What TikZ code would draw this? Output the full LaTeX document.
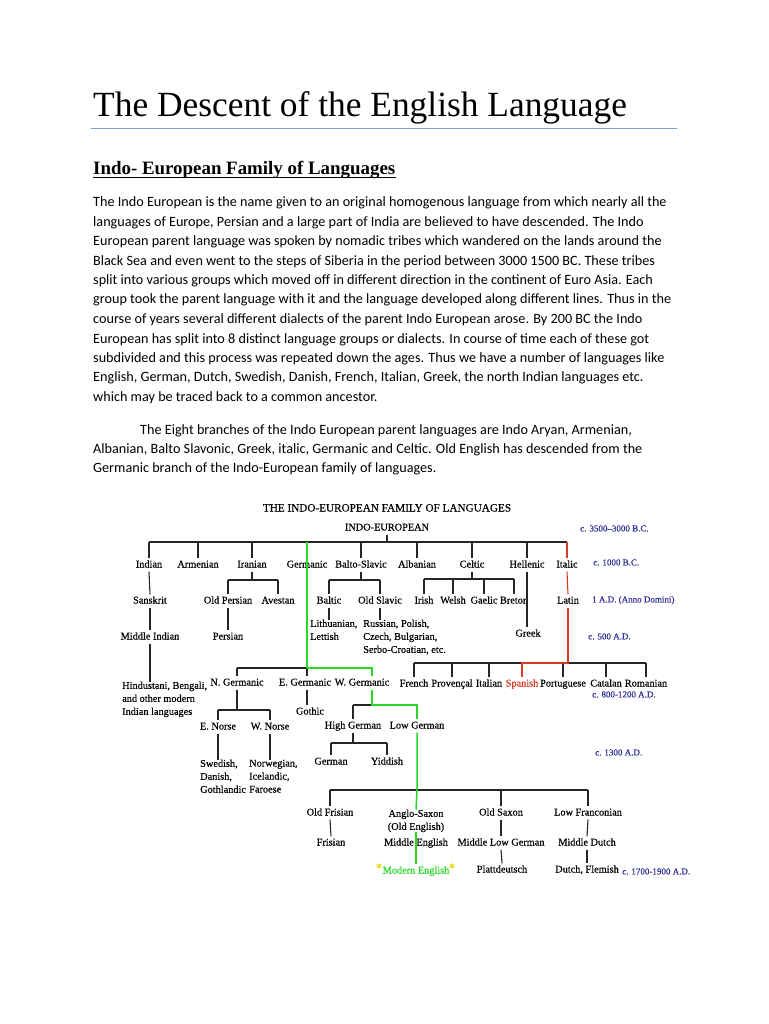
\documentclass[tikz,border=0pt]{standalone}
\usepackage{fontspec}
\setmainfont{Carlito}
\newfontfamily\titlefont{Liberation Serif}
\newfontfamily\scanfont[FakeBold=0.4]{Liberation Serif}
\usetikzlibrary{shapes.geometric}
\definecolor{ruleblue}{RGB}{125,160,205}
\definecolor{erablue}{RGB}{45,45,150}
\definecolor{engreen}{RGB}{40,215,40}
\definecolor{latred}{RGB}{215,60,35}
\definecolor{staryellow}{RGB}{225,225,50}

\begin{document}
\begin{tikzpicture}[x=1pt, y=-1pt,
    body/.style={anchor=mid west, inner sep=0, font=\fontsize{14.2}{16}\selectfont},
    lang/.style={inner sep=2pt, text height=7pt, text depth=2pt, font=\scanfont\fontsize{10.3}{13}\selectfont},
    langblock/.style={inner sep=0, align=left, anchor=north west, font=\scanfont\fontsize{10.3}{13}\selectfont},
    era/.style={anchor=mid west, inner sep=0, text=erablue, font=\scanfont\fontsize{9}{11}\selectfont},
    tree/.style={draw=black!85, line width=1.1pt},
    eng/.style={draw=engreen, line width=1.5pt},
    rom/.style={draw=latred, line width=1.1pt}]
\useasboundingbox (0,0) rectangle (768,1024);

% page heading
\node[anchor=base west, inner sep=0, font=\titlefont\fontsize{35.4}{40}\selectfont] (title) at (93,117) {The Descent of the English Language};
\coordinate (ruleL) at (91,129);
\coordinate (ruleR) at (677,129);
\draw[ruleblue, line width=1pt] (ruleL) -- (ruleR);
\node[anchor=base west, inner sep=0, font=\titlefont\bfseries\fontsize{18.9}{22}\selectfont] (heading) at (93,175) {Indo- European Family of Languages};
\draw[line width=1.1pt] ([yshift=-2.6pt]heading.base west) -- ([yshift=-2.6pt]heading.base east);

% text
\node[body] (p1) at (93,204) {The Indo European is the name given to an original homogenous language from which nearly all the};
\node[body] (p2) at (93,224) {languages of Europe, Persian and a large part of India are believed to have descended. The Indo};
\node[body] (p3) at (93,243) {European parent language was spoken by nomadic tribes which wandered on the lands around the};
\node[body] (p4) at (93,263) {Black Sea and even went to the steps of Siberia in the period between 3000 1500 BC. These tribes};
\node[body] (p5) at (93,282) {split into various groups which moved off in different direction in the continent of Euro Asia. Each};
\node[body] (p6) at (93,301) {group took the parent language with it and the language developed along different lines. Thus in the};
\node[body] (p7) at (93,321) {course of years several different dialects of the parent Indo European arose. By 200 BC the Indo};
\node[body] (p8) at (93,341) {European has split into 8 distinct language groups or dialects. In course of time each of these got};
\node[body] (p9) at (93,360) {subdivided and this process was repeated down the ages. Thus we have a number of languages like};
\node[body] (p10) at (93,379) {English, German, Dutch, Swedish, Danish, French, Italian, Greek, the north Indian languages etc.};
\node[body] (p11) at (93,399) {which may be traced back to a common ancestor.};
\node[body] (p12) at (140,432) {The Eight branches of the Indo European parent languages are Indo Aryan, Armenian,};
\node[body] (p13) at (93,451) {Albanian, Balto Slavonic, Greek, italic, Germanic and Celtic. Old English has descended from the};
\node[body] (p14) at (93,470) {Germanic branch of the Indo-European family of languages.};

% chart
\node[lang, font=\scanfont\fontsize{11.2}{13}\selectfont] (charttitle) at (387,509) {THE INDO-EUROPEAN FAMILY OF LANGUAGES};
\node[lang] (ie) at (387,528) {INDO-EUROPEAN};

\node[lang] (indian) at (149,565) {Indian};
\node[lang] (armenian) at (198,565) {Armenian};
\node[lang] (iranian) at (252,565) {Iranian};
\node[lang] (germanic) at (307,565) {Germanic};
\node[lang] (baltoslavic) at (361,565) {Balto-Slavic};
\node[lang] (albanian) at (417,565) {Albanian};
\node[lang] (celtic) at (472,565) {Celtic};
\node[lang] (hellenic) at (527,565) {Hellenic};
\node[lang] (italic) at (567,565) {Italic};

\node[lang] (sanskrit) at (150,601) {Sanskrit};
\node[lang] (oldpersian) at (228,601) {Old Persian};
\node[lang] (avestan) at (278,601) {Avestan};
\node[lang] (baltic) at (329,601) {Baltic};
\node[lang] (oldslavic) at (380,601) {Old Slavic};
\node[lang] (irish) at (424,601) {Irish};
\node[lang] (welsh) at (453,601) {Welsh};
\node[lang] (gaelic) at (484,601) {Gaelic};
\node[lang] (breton) at (514,601) {Breton};
\node[lang] (latin) at (568,601) {Latin};

\node[lang] (middleindian) at (150,637) {Middle Indian};
\node[lang] (persian) at (228,637) {Persian};
\node[langblock] (lithuanian) at (310,619.5) {Lithuanian,\\Lettish};
\node[langblock] (slavic) at (363,619.5) {Russian, Polish,\\Czech, Bulgarian,\\Serbo-Croatian, etc.};
\node[lang] (greek) at (528,634) {Greek};

\node[langblock] (hindustani) at (122,681.5) {Hindustani, Bengali,\\and other modern\\Indian languages};
\node[lang] (nger) at (237,683) {N. Germanic};
\node[lang] (eger) at (305,683) {E. Germanic};
\node[lang] (wger) at (362,683) {W. Germanic};
\node[lang] (french) at (414,684) {French};
\node[lang] (provencal) at (452,684) {Provençal};
\node[lang] (italian) at (489,684) {Italian};
\node[lang, text=latred] (spanish) at (522,684) {Spanish};
\node[lang] (portuguese) at (563,684) {Portuguese};
\node[lang] (catalan) at (606,684) {Catalan};
\node[lang] (romanian) at (646,684) {Romanian};

\node[lang] (gothic) at (310,712) {Gothic};
\node[lang] (enorse) at (218,727) {E. Norse};
\node[lang] (wnorse) at (270,727) {W. Norse};
\node[lang] (highger) at (353,726) {High German};
\node[lang] (lowger) at (417,726) {Low German};
\node[langblock] (swedish) at (200,759.5) {Swedish,\\Danish,\\Gothlandic};
\node[langblock] (norwegian) at (249,759.5) {Norwegian,\\Icelandic,\\Faroese};
\node[lang] (german) at (331,762) {German};
\node[lang] (yiddish) at (387,762) {Yiddish};

\node[lang] (ofrisian) at (330,813) {Old Frisian};
\node[langblock, align=center, anchor=north] (anglosaxon) at (416,809.5) {Anglo-Saxon\\(Old English)};
\node[lang] (oldsaxon) at (501,813) {Old Saxon};
\node[lang] (lowfranc) at (588,813) {Low Franconian};
\node[lang] (frisian) at (331,843) {Frisian};
\node[lang] (middleeng) at (416,843) {Middle English};
\node[lang] (mlg) at (501,843) {Middle Low German};
\node[lang] (middledutch) at (587,843) {Middle Dutch};
\node[lang, text=engreen] (modern) at (416,871) {Modern English};
\node[lang] (platt) at (502,870) {Plattdeutsch};
\node[lang] (dutch) at (587,870) {Dutch, Flemish};
\node[star, star points=6, star point ratio=2.2, fill=staryellow, minimum size=7pt, inner sep=0] (starL) at (379,866) {};
\node[star, star points=6, star point ratio=2.2, fill=staryellow, minimum size=7pt, inner sep=0] (starR) at (452,866) {};

% dates
\node[era] (d1) at (580,529) {c. 3500–3000 B.C.};
\node[era] (d2) at (593,563) {c. 1000 B.C.};
\node[era] (d3) at (592,600) {1 A.D. (Anno Domini)};
\node[era] (d4) at (588,637) {c. 500 A.D.};
\node[era] (d5) at (592,695) {c. 800-1200 A.D.};
\node[era] (d6) at (595,753) {c. 1300 A.D.};
\node[era] (d7) at (622,872) {c. 1700-1900 A.D.};

% branches
\coordinate (ieBar) at (387,542);
\draw[tree] (ie.south) -- (ieBar);
\draw[tree] (ieBar -| indian) -- (ieBar -| italic);
\foreach \n in {indian,armenian,iranian,baltoslavic,albanian,celtic,hellenic}
  \draw[tree] (ieBar -| \n) -- (\n.north);
\draw[tree] (indian.south) -- (sanskrit.north);
\draw[tree] (sanskrit.south) -- (middleindian.north);
\draw[tree] (middleindian.south) -- (middleindian.south |- hindustani.north);

\coordinate (iranBar) at (252,580);
\draw[tree] (iranian.south) -- (iranBar);
\draw[tree] (iranBar -| oldpersian) -- (iranBar -| avestan);
\foreach \n in {oldpersian,avestan}
  \draw[tree] (iranBar -| \n) -- (\n.north);
\draw[tree] (oldpersian.south) -- (persian.north);

\coordinate (baltoBar) at (361,580);
\draw[tree] (baltoslavic.south) -- (baltoBar);
\draw[tree] (baltoBar -| baltic) -- (baltoBar -| oldslavic);
\foreach \n in {baltic,oldslavic}
  \draw[tree] (baltoBar -| \n) -- (\n.north);
\draw[tree] (baltic.south) -- (baltic.south |- lithuanian.north);
\draw[tree] (oldslavic.south) -- (oldslavic.south |- slavic.north);

\coordinate (celtBar) at (472,579);
\draw[tree] (celtic.south) -- (celtBar);
\draw[tree] (celtBar -| irish) -- (celtBar -| breton);
\foreach \n in {irish,welsh,gaelic,breton}
  \draw[tree] (celtBar -| \n) -- (\n.north);
\draw[tree] (hellenic.south) -- (hellenic.south |- greek.north);

% italic line
\coordinate (romBar) at (568,663);
\draw[tree] (romBar -| french) -- (romBar -| spanish);
\draw[tree] (romBar) -- (romBar -| romanian);
\foreach \n in {french,provencal,italian,portuguese,catalan,romanian}
  \draw[tree] (romBar -| \n) -- (\n.north);
\draw[rom] (ieBar -| italic) -- (italic.north);
\draw[rom] (italic.south) -- (latin.north);
\draw[rom] (latin.south) -- (romBar) -- (romBar -| spanish) -- (spanish.north);

% germanic line
\coordinate (gerBar) at (307,668);
\coordinate (wgBar) at (372,705);
\coordinate (norseBar) at (237,710);
\coordinate (hgBar) at (353,743);
\coordinate (lgBar) at (417,790);
\draw[tree] (gerBar -| nger) -- (gerBar);
\draw[tree] (gerBar -| nger) -- (nger.north);
\draw[tree] (gerBar) -- (gerBar |- eger.north);
\draw[tree] (eger.south -| gerBar) -- (gothic.north -| gerBar);
\draw[tree] (nger.south) -- (norseBar);
\draw[tree] (norseBar -| enorse) -- (norseBar -| wnorse);
\foreach \n in {enorse,wnorse}
  \draw[tree] (norseBar -| \n) -- (\n.north);
\draw[tree] (enorse.south) -- (enorse.south |- swedish.north);
\draw[tree] (wnorse.south) -- (wnorse.south |- norwegian.north);
\draw[tree] (wgBar -| highger) -- (wgBar);
\draw[tree] (wgBar -| highger) -- (highger.north);
\draw[tree] (highger.south) -- (hgBar);
\draw[tree] (hgBar -| german) -- (hgBar -| yiddish);
\foreach \n in {german,yiddish}
  \draw[tree] (hgBar -| \n) -- (\n.north);
\draw[tree] (lgBar -| ofrisian) -- (lgBar -| lowfranc);
\foreach \n in {ofrisian,oldsaxon,lowfranc}
  \draw[tree] (lgBar -| \n) -- (\n.north);
\draw[tree] (ofrisian.south) -- (frisian.north);
\draw[tree] (oldsaxon.south) -- (mlg.north);
\draw[tree] (mlg.south) -- (platt.north);
\draw[tree] (lowfranc.south) -- (middledutch.north);
\draw[tree] (middledutch.south) -- (dutch.north);

\draw[eng] (ieBar -| germanic) -- (gerBar);
\draw[eng] (gerBar) -| ([xshift=10pt]wger.north);
\draw[eng] ([xshift=10pt]wger.south) -- (wgBar) -- (wgBar -| lowger) -- (lowger.north);
\draw[eng] (lowger.south) -- (lgBar) -- (anglosaxon.north);
\draw[eng] (anglosaxon.south) -- (modern.north);
\end{tikzpicture}
\end{document}
